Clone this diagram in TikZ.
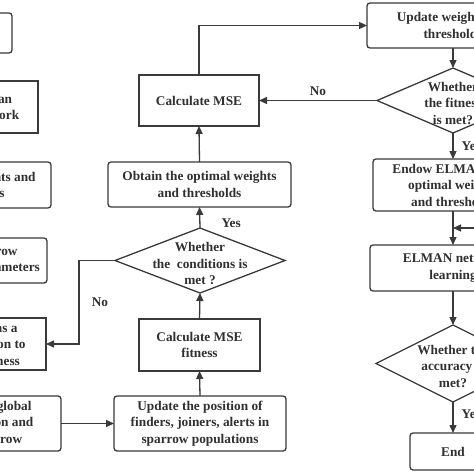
\documentclass[tikz,border=0pt]{standalone}
\usepackage{fontspec}
\setmainfont{Liberation Serif}
\usetikzlibrary{arrows.meta,shapes.geometric}
\definecolor{ink}{HTML}{3A3A3A}
\definecolor{txtc}{HTML}{303030}
\begin{document}
\begin{tikzpicture}[x=1pt,y=-1pt,
  every node/.style={text=txtc,font=\bfseries\fontsize{13.3}{16.5}\selectfont},
  box/.style={draw=ink,line width=1.3pt,inner sep=0pt,outer sep=0pt,align=center},
  rbox/.style={box,rounded corners=3pt},
  sbox/.style={box},
  dia/.style={draw=ink,line width=1.3pt,shape=diamond,inner sep=0pt,outer sep=0pt},
  lbl/.style={inner sep=0pt,align=center},
  arr/.style={draw=ink,line width=1.3pt,-{Triangle[length=8pt,width=7pt]}},
  ln/.style={draw=ink,line width=1.3pt}]
\useasboundingbox (0,0) rectangle (474,474);
\clip (0,0) rectangle (474,474);
\fill[white] (0,0) rectangle (474,474);

% left column (mostly outside the view)
\node[rbox,minimum width=74pt,minimum height=40pt] (start) at (-25,33) {Start};
\node[sbox,minimum width=126pt,minimum height=52pt] (build) at (-25,107) {Construct an\\Elman network};
\node[rbox,minimum width=152pt,minimum height=46pt] (initw) at (-25,185) {Initialize weights and\\thresholds};
\node[rbox,minimum width=144pt,minimum height=45pt] (inits) at (-25,260.5) {Initial sparrow\\population parameters};
\node[sbox,minimum width=142pt,minimum height=52pt] (msef) at (-25,344) {Take MSE as a\\fitness function to\\calculate fitness};
\node[rbox,minimum width=172pt,minimum height=55pt] (glob) at (-25,423.5) {Calculate the global\\optimal position and\\the best sparrow};

% middle column
\node[rbox,minimum width=172pt,minimum height=55pt] (upd) at (200,423.5) {Update the position of\\finders, joiners, alerts in\\sparrow populations};
\node[sbox,minimum width=121pt,minimum height=52pt] (fit) at (199.5,345) {Calculate MSE\\fitness};
\node[dia,minimum width=170pt,minimum height=65pt] (cond) at (200,260.5) {};
\node[lbl] at (200,263.5) {Whether\\the\ \ conditions is\\met ?};
\node[rbox,minimum width=183pt,minimum height=45pt] (obt) at (199.5,184.5) {Obtain the optimal weights\\and thresholds};
\node[sbox,minimum width=120pt,minimum height=51pt] (mse) at (199,100.5) {Calculate MSE};

% right column
\node[rbox,minimum width=172pt,minimum height=45pt] (uw) at (453,25.5) {Update weights and\\thresholds};
\node[dia,minimum width=152pt,minimum height=65pt] (fd) at (453,100.5) {};
\node[lbl] at (453,103) {Whether\\the fitness\\is met?};
\node[rbox,minimum width=160pt,minimum height=52pt] (endow) at (453,185) {Endow ELMAN with\\optimal weights\\and thresholds};
\node[rbox,minimum width=166pt,minimum height=46pt] (elman) at (453,268) {ELMAN network\\learning};
\node[dia,minimum width=154pt,minimum height=77pt] (acc) at (453,363.5) {};
\node[lbl] at (453,366) {Whether the\\accuracy is\\met?};
\node[rbox,minimum width=86pt,minimum height=37pt] (end) at (453,451.5) {End};

\coordinate (join) at (453,228);

% connectors
\draw[arr] (start) -- (build);
\draw[arr] (build) -- (initw);
\draw[arr] (initw) -- (inits);
\draw[arr] (inits) -- (msef);
\draw[arr] (msef) -- (glob);
\draw[arr] (glob.east) -- (upd.west);
\draw[arr] (upd.north) -- (fit.south);
\draw[arr] (fit.north) -- (cond.south);
\draw[arr] (cond.north) -- node[lbl,anchor=west,pos=0.25,xshift=21pt]{Yes} (obt.south);
\draw[arr] (cond.west) -- (79,260.5) |- node[lbl,pos=0.25,xshift=21pt]{No} (msef.east);
\draw[arr] (obt.north) -- (mse.south);
\draw[arr] (mse.north) |- (uw.west);
\draw[arr] (uw.south) -- (fd.north);
\draw[arr] (fd.west) -- node[lbl,pos=0.5,yshift=9pt]{No} (mse.east);
\draw[arr] (fd.south) -- node[lbl,anchor=west,pos=0.5,xshift=8pt]{Yes} (endow.north);
\draw[arr] (endow.south) -- (elman.north);
\draw[arr] (acc.east) -- ++(25,0) |- (join);
\draw[arr] (elman.south) -- (acc.north);
\draw[arr] (acc.south) -- node[lbl,anchor=west,pos=0.4,xshift=8pt]{Yes} (end.north);
\end{tikzpicture}
\end{document}
